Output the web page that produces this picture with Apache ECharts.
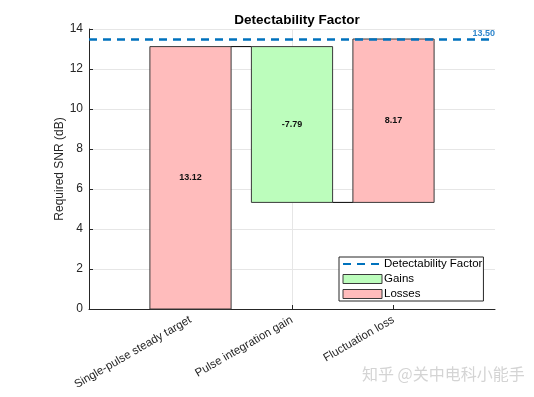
<!DOCTYPE html>
<html>
<head>
<meta charset="utf-8">
<script src="https://cdn.jsdelivr.net/npm/echarts@6/dist/echarts.min.js"></script>
<style>html,body{margin:0;padding:0;background:#fff;}#c{width:534px;height:397px;}</style>
</head>
<body>
<div id="c"></div>
<script>
const categories = ['Single-pulse steady target', 'Pulse integration gain', 'Fluctuation loss'];
const contributions = [13.12, -7.79, 8.17];
const detectability = 13.50;
const yTicks = [0, 2, 4, 6, 8, 10, 12, 14];

// running totals from contributions
const gainsData = [], lossesData = [], connectorData = [];
let level = 0;
contributions.forEach(function (v, i) {
  const start = level, end = level + v;
  const item = [i + 1, Math.min(start, end), Math.max(start, end), v];
  if (v < 0) gainsData.push(item); else lossesData.push(item);
  if (i < contributions.length - 1) connectorData.push([i + 1, end]);
  level = end;
});

const HALF = 0.4;
function barRenderer(fill) {
  return function (params, api) {
    const x = api.value(0), lo = api.value(1), hi = api.value(2), v = api.value(3);
    const p0 = api.coord([x - HALF, hi]);
    const p1 = api.coord([x + HALF, lo]);
    return {
      type: 'group',
      children: [
        { type: 'rect', shape: { x: p0[0], y: p0[1], width: p1[0] - p0[0], height: p1[1] - p0[1] },
          style: { fill: fill, stroke: '#3a3a3a', lineWidth: 1 } },
        { type: 'text', style: { text: v.toFixed(2), x: (p0[0] + p1[0]) / 2, y: (p0[1] + p1[1]) / 2,
          align: 'center', verticalAlign: 'middle', font: 'bold 9px "Liberation Sans", Arial', fill: '#111' } }
      ]
    };
  };
}

const chart = echarts.init(document.getElementById('c'));
chart.setOption({
  animation: false,
  backgroundColor: '#fff',
  title: {
    text: 'Detectability Factor', left: 292, top: 8, textAlign: 'center',
    textStyle: { fontSize: 13.5, fontWeight: 'bold', color: '#000', fontFamily: '"Liberation Sans", Arial' }
  },
  grid: { left: 89, right: 39, top: 29, bottom: 88 },
  legend: {
    orient: 'vertical', left: 339, top: 257,
    backgroundColor: '#fff', borderColor: '#262626', borderWidth: 1,
    padding: [1, 1, 1, 3], itemGap: 3, itemWidth: 39, itemHeight: 9,
    textStyle: { fontSize: 11.5, color: '#000', fontFamily: '"Liberation Sans", Arial', padding: [0, 0, 0, -3] },
    data: [
      { name: 'Detectability Factor', itemStyle: { opacity: 0 } },
      { name: 'Gains', icon: 'rect', itemStyle: { borderColor: '#3a3a3a', borderWidth: 1 } },
      { name: 'Losses', icon: 'rect', itemStyle: { borderColor: '#3a3a3a', borderWidth: 1 } }
    ]
  },
  xAxis: {
    type: 'value', min: 0, max: categories.length + 1, interval: 1,
    axisLine: { show: true, lineStyle: { color: '#262626' } },
    axisTick: { show: true, inside: true, length: 4, customValues: categories.map(function (c, i) { return i + 1; }), lineStyle: { color: '#262626' } },
    axisLabel: {
      rotate: 30, fontSize: 11.5, color: '#262626', margin: 10,
      fontFamily: '"Liberation Sans", Arial',
      customValues: categories.map(function (c, i) { return i + 1; }),
      formatter: function (v) { return categories[v - 1] || ''; }
    },
    splitLine: { show: true, showMinLine: false, showMaxLine: false, lineStyle: { color: '#e6e6e6' } }
  },
  yAxis: {
    type: 'value', min: yTicks[0], max: yTicks[yTicks.length - 1], interval: 2,
    name: 'Required SNR (dB)', nameLocation: 'middle', nameGap: 23, nameMoveOverlap: false,
    nameTextStyle: { fontSize: 12, color: '#262626', fontFamily: '"Liberation Sans", Arial' },
    axisLine: { show: true, lineStyle: { color: '#262626' } },
    axisTick: { show: true, inside: true, length: 4, lineStyle: { color: '#262626' } },
    axisLabel: { fontSize: 12, color: '#262626', margin: 6, fontFamily: '"Liberation Sans", Arial' },
    splitLine: { show: true, lineStyle: { color: '#e6e6e6' } }
  },
  series: [
    {
      name: 'Losses', type: 'custom', color: '#ffbcbc', z: 3,
      renderItem: barRenderer('#ffbcbc'), data: lossesData,
      encode: { x: 0, y: [1, 2] }
    },
    {
      name: 'Gains', type: 'custom', color: '#bcfdbc', z: 3,
      renderItem: barRenderer('#bcfdbc'), data: gainsData,
      encode: { x: 0, y: [1, 2] }
    },
    {
      name: 'connector', type: 'custom', z: 3,
      renderItem: function (params, api) {
        const x = api.value(0), y = api.value(1);
        const a = api.coord([x + HALF, y]);
        const b = api.coord([x + 1 - HALF, y]);
        return { type: 'line', shape: { x1: a[0], y1: a[1], x2: b[0], y2: b[1] },
          style: { stroke: '#000', lineWidth: 1 } };
      },
      data: connectorData, encode: { x: 0, y: 1 }
    },
    {
      name: 'Detectability Factor', type: 'line', data: [], symbol: 'none', z: 5,
      color: '#0072bd',
      lineStyle: { color: '#0072bd', width: 2.5, type: [8, 6] },
      markLine: {
        symbol: 'none', silent: true, animation: false,
        lineStyle: { color: '#0072bd', width: 2.5, type: [8, 6] },
        label: {
          position: 'insideEndTop', distance: [0, 1],
          formatter: function (p) { return p.value.toFixed(2); },
          color: '#2f86cc', fontSize: 9, fontWeight: 'bold', fontFamily: '"Liberation Sans", Arial'
        },
        data: [{ yAxis: detectability }]
      }
    }
  ],
  graphic: [
    { type: 'text', left: 362, top: 366, z: 10,
      style: { text: '知乎 @关中电科小能手', font: '16px "Noto Sans CJK SC"', fill: '#d4d4d4' } }
  ]
});
</script>
</body>
</html>
